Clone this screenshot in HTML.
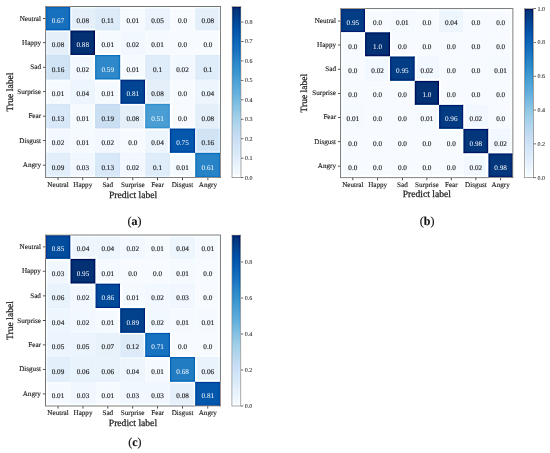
<!DOCTYPE html>
<html><head><meta charset="utf-8"><style>
html,body{margin:0;padding:0;background:#fff;}
body{width:550px;height:453px;overflow:hidden;}
svg{display:block;} text{stroke-width:0.15px;} text.ax{stroke-width:0.25px;} text.cb{stroke-width:0.08px;}
</style></head><body>
<svg width="550" height="453" viewBox="0 0 550 453" font-family="'Liberation Serif', 'Times New Roman', serif" text-rendering="geometricPrecision">
<defs><filter id="fx" x="0" y="0" width="550" height="453" filterUnits="userSpaceOnUse" color-interpolation-filters="sRGB">
<feGaussianBlur in="SourceGraphic" stdDeviation="0.4" result="soft"/>
<feGaussianBlur in="soft" stdDeviation="1.0" result="wide"/>
<feComposite in="soft" in2="wide" operator="arithmetic" k1="0" k2="1.6" k3="-0.6" k4="0" result="sh"/>
<feColorMatrix in="sh" type="saturate" values="1.12"/>
</filter></defs>
<filter id="ft" x="0" y="0" width="550" height="453" filterUnits="userSpaceOnUse" color-interpolation-filters="sRGB">
<feGaussianBlur in="SourceGraphic" stdDeviation="0.4"/>
</filter>
<g filter="url(#fx)">
<rect x="0" y="0" width="550" height="453" fill="#fff"/>
<rect x="45.60" y="6.50" width="25.10" height="24.30" fill="#1f6eb3"/>
<rect x="70.40" y="6.50" width="25.00" height="24.30" fill="#e5eff9"/>
<rect x="95.10" y="6.50" width="25.60" height="24.30" fill="#deebf7"/>
<rect x="120.40" y="6.50" width="25.10" height="24.30" fill="#f5fafe"/>
<rect x="145.20" y="6.50" width="24.90" height="24.30" fill="#ecf4fb"/>
<rect x="169.80" y="6.50" width="25.70" height="24.30" fill="#f7fbff"/>
<rect x="195.20" y="6.50" width="25.40" height="24.30" fill="#e5eff9"/>
<rect x="45.60" y="30.50" width="25.10" height="24.70" fill="#e5eff9"/>
<rect x="70.40" y="30.50" width="25.00" height="24.70" fill="#08306b"/>
<rect x="95.10" y="30.50" width="25.60" height="24.70" fill="#f5fafe"/>
<rect x="120.40" y="30.50" width="25.10" height="24.70" fill="#f3f8fe"/>
<rect x="145.20" y="30.50" width="24.90" height="24.70" fill="#f5fafe"/>
<rect x="169.80" y="30.50" width="25.70" height="24.70" fill="#f7fbff"/>
<rect x="195.20" y="30.50" width="25.40" height="24.70" fill="#f7fbff"/>
<rect x="45.60" y="54.90" width="25.10" height="25.00" fill="#d3e4f3"/>
<rect x="70.40" y="54.90" width="25.00" height="25.00" fill="#f3f8fe"/>
<rect x="95.10" y="54.90" width="25.60" height="25.00" fill="#3686c0"/>
<rect x="120.40" y="54.90" width="25.10" height="25.00" fill="#f5fafe"/>
<rect x="145.20" y="54.90" width="24.90" height="25.00" fill="#e0ecf8"/>
<rect x="169.80" y="54.90" width="25.70" height="25.00" fill="#f3f8fe"/>
<rect x="195.20" y="54.90" width="25.40" height="25.00" fill="#e0ecf8"/>
<rect x="45.60" y="79.60" width="25.10" height="24.50" fill="#f5fafe"/>
<rect x="70.40" y="79.60" width="25.00" height="24.50" fill="#eef5fc"/>
<rect x="95.10" y="79.60" width="25.60" height="24.50" fill="#f5fafe"/>
<rect x="120.40" y="79.60" width="25.10" height="24.50" fill="#08458a"/>
<rect x="145.20" y="79.60" width="24.90" height="24.50" fill="#e5eff9"/>
<rect x="169.80" y="79.60" width="25.70" height="24.50" fill="#f7fbff"/>
<rect x="195.20" y="79.60" width="25.40" height="24.50" fill="#eef5fc"/>
<rect x="45.60" y="103.80" width="25.10" height="25.00" fill="#dae8f6"/>
<rect x="70.40" y="103.80" width="25.00" height="25.00" fill="#f5fafe"/>
<rect x="95.10" y="103.80" width="25.60" height="25.00" fill="#cddff1"/>
<rect x="120.40" y="103.80" width="25.10" height="25.00" fill="#e5eff9"/>
<rect x="145.20" y="103.80" width="24.90" height="25.00" fill="#519ccc"/>
<rect x="169.80" y="103.80" width="25.70" height="25.00" fill="#f7fbff"/>
<rect x="195.20" y="103.80" width="25.40" height="25.00" fill="#e5eff9"/>
<rect x="45.60" y="128.50" width="25.10" height="24.60" fill="#f3f8fe"/>
<rect x="70.40" y="128.50" width="25.00" height="24.60" fill="#f5fafe"/>
<rect x="95.10" y="128.50" width="25.60" height="24.60" fill="#f3f8fe"/>
<rect x="120.40" y="128.50" width="25.10" height="24.60" fill="#f7fbff"/>
<rect x="145.20" y="128.50" width="24.90" height="24.60" fill="#eef5fc"/>
<rect x="169.80" y="128.50" width="25.70" height="24.60" fill="#0c56a0"/>
<rect x="195.20" y="128.50" width="25.40" height="24.60" fill="#d3e4f3"/>
<rect x="45.60" y="152.80" width="25.10" height="24.80" fill="#e3eef8"/>
<rect x="70.40" y="152.80" width="25.00" height="24.80" fill="#f1f7fd"/>
<rect x="95.10" y="152.80" width="25.60" height="24.80" fill="#dae8f6"/>
<rect x="120.40" y="152.80" width="25.10" height="24.80" fill="#f3f8fe"/>
<rect x="145.20" y="152.80" width="24.90" height="24.80" fill="#e0ecf8"/>
<rect x="169.80" y="152.80" width="25.70" height="24.80" fill="#f5fafe"/>
<rect x="195.20" y="152.80" width="25.40" height="24.80" fill="#3080bd"/>

















































<rect x="45.60" y="6.50" width="175.00" height="171.10" fill="none" stroke="#999999" stroke-width="1.00"/>
<line x1="43.00" y1="18.50" x2="45.60" y2="18.50" stroke="#555" stroke-width="0.8"/>

<line x1="43.00" y1="42.70" x2="45.60" y2="42.70" stroke="#555" stroke-width="0.8"/>

<line x1="43.00" y1="67.25" x2="45.60" y2="67.25" stroke="#555" stroke-width="0.8"/>

<line x1="43.00" y1="91.70" x2="45.60" y2="91.70" stroke="#555" stroke-width="0.8"/>

<line x1="43.00" y1="116.15" x2="45.60" y2="116.15" stroke="#555" stroke-width="0.8"/>

<line x1="43.00" y1="140.65" x2="45.60" y2="140.65" stroke="#555" stroke-width="0.8"/>

<line x1="43.00" y1="165.20" x2="45.60" y2="165.20" stroke="#555" stroke-width="0.8"/>

<line x1="58.00" y1="177.60" x2="58.00" y2="180.20" stroke="#555" stroke-width="0.8"/>

<line x1="82.75" y1="177.60" x2="82.75" y2="180.20" stroke="#555" stroke-width="0.8"/>

<line x1="107.75" y1="177.60" x2="107.75" y2="180.20" stroke="#555" stroke-width="0.8"/>

<line x1="132.80" y1="177.60" x2="132.80" y2="180.20" stroke="#555" stroke-width="0.8"/>

<line x1="157.50" y1="177.60" x2="157.50" y2="180.20" stroke="#555" stroke-width="0.8"/>

<line x1="182.50" y1="177.60" x2="182.50" y2="180.20" stroke="#555" stroke-width="0.8"/>

<line x1="207.90" y1="177.60" x2="207.90" y2="180.20" stroke="#555" stroke-width="0.8"/>



<defs><linearGradient id="ga" x1="0" y1="0" x2="0" y2="1"><stop offset="0.000" stop-color="#08306b"/><stop offset="0.025" stop-color="#083674"/><stop offset="0.050" stop-color="#083c7d"/><stop offset="0.075" stop-color="#084488"/><stop offset="0.100" stop-color="#084a91"/><stop offset="0.125" stop-color="#08509b"/><stop offset="0.150" stop-color="#0d57a1"/><stop offset="0.175" stop-color="#125da6"/><stop offset="0.200" stop-color="#1764ab"/><stop offset="0.225" stop-color="#1c6ab0"/><stop offset="0.250" stop-color="#2070b4"/><stop offset="0.275" stop-color="#2777b8"/><stop offset="0.300" stop-color="#2e7ebc"/><stop offset="0.325" stop-color="#3585bf"/><stop offset="0.350" stop-color="#3b8bc2"/><stop offset="0.375" stop-color="#4191c6"/><stop offset="0.400" stop-color="#4a98c9"/><stop offset="0.425" stop-color="#529dcc"/><stop offset="0.450" stop-color="#5ba3d0"/><stop offset="0.475" stop-color="#63a8d3"/><stop offset="0.500" stop-color="#6aaed6"/><stop offset="0.525" stop-color="#75b4d8"/><stop offset="0.550" stop-color="#7fb9da"/><stop offset="0.575" stop-color="#8abfdd"/><stop offset="0.600" stop-color="#94c4df"/><stop offset="0.625" stop-color="#9dcae1"/><stop offset="0.650" stop-color="#a6cee4"/><stop offset="0.675" stop-color="#aed1e7"/><stop offset="0.700" stop-color="#b7d4ea"/><stop offset="0.725" stop-color="#bed8ec"/><stop offset="0.750" stop-color="#c6dbef"/><stop offset="0.775" stop-color="#cbdef1"/><stop offset="0.800" stop-color="#d0e1f2"/><stop offset="0.825" stop-color="#d5e5f4"/><stop offset="0.850" stop-color="#d9e8f5"/><stop offset="0.875" stop-color="#deebf7"/><stop offset="0.900" stop-color="#e3eef9"/><stop offset="0.925" stop-color="#e8f1fa"/><stop offset="0.950" stop-color="#eef5fc"/><stop offset="0.975" stop-color="#f2f8fd"/><stop offset="1.000" stop-color="#f7fbff"/></linearGradient></defs>
<rect x="232.00" y="6.50" width="9.00" height="171.10" fill="url(#ga)" stroke="#aaa" stroke-width="0.8"/>
<line x1="241.00" y1="177.60" x2="243.50" y2="177.60" stroke="#444" stroke-width="0.6"/>

<line x1="241.00" y1="158.16" x2="243.50" y2="158.16" stroke="#444" stroke-width="0.6"/>

<line x1="241.00" y1="138.71" x2="243.50" y2="138.71" stroke="#444" stroke-width="0.6"/>

<line x1="241.00" y1="119.27" x2="243.50" y2="119.27" stroke="#444" stroke-width="0.6"/>

<line x1="241.00" y1="99.83" x2="243.50" y2="99.83" stroke="#444" stroke-width="0.6"/>

<line x1="241.00" y1="80.38" x2="243.50" y2="80.38" stroke="#444" stroke-width="0.6"/>

<line x1="241.00" y1="60.94" x2="243.50" y2="60.94" stroke="#444" stroke-width="0.6"/>

<line x1="241.00" y1="41.50" x2="243.50" y2="41.50" stroke="#444" stroke-width="0.6"/>

<line x1="241.00" y1="22.05" x2="243.50" y2="22.05" stroke="#444" stroke-width="0.6"/>


<rect x="340.60" y="8.60" width="24.80" height="24.00" fill="#083c7d"/>
<rect x="365.10" y="8.60" width="25.30" height="24.00" fill="#f7fbff"/>
<rect x="390.10" y="8.60" width="24.90" height="24.00" fill="#f5fafe"/>
<rect x="414.70" y="8.60" width="24.70" height="24.00" fill="#f7fbff"/>
<rect x="439.10" y="8.60" width="24.60" height="24.00" fill="#eff6fc"/>
<rect x="463.40" y="8.60" width="25.30" height="24.00" fill="#f7fbff"/>
<rect x="488.40" y="8.60" width="24.50" height="24.00" fill="#f7fbff"/>
<rect x="340.60" y="32.30" width="24.80" height="24.45" fill="#f7fbff"/>
<rect x="365.10" y="32.30" width="25.30" height="24.45" fill="#08306b"/>
<rect x="390.10" y="32.30" width="24.90" height="24.45" fill="#f7fbff"/>
<rect x="414.70" y="32.30" width="24.70" height="24.45" fill="#f7fbff"/>
<rect x="439.10" y="32.30" width="24.60" height="24.45" fill="#f7fbff"/>
<rect x="463.40" y="32.30" width="25.30" height="24.45" fill="#f7fbff"/>
<rect x="488.40" y="32.30" width="24.50" height="24.45" fill="#f7fbff"/>
<rect x="340.60" y="56.45" width="24.80" height="24.65" fill="#f7fbff"/>
<rect x="365.10" y="56.45" width="25.30" height="24.65" fill="#f3f8fe"/>
<rect x="390.10" y="56.45" width="24.90" height="24.65" fill="#083c7d"/>
<rect x="414.70" y="56.45" width="24.70" height="24.65" fill="#f3f8fe"/>
<rect x="439.10" y="56.45" width="24.60" height="24.65" fill="#f7fbff"/>
<rect x="463.40" y="56.45" width="25.30" height="24.65" fill="#f7fbff"/>
<rect x="488.40" y="56.45" width="24.50" height="24.65" fill="#f5fafe"/>
<rect x="340.60" y="80.80" width="24.80" height="24.30" fill="#f7fbff"/>
<rect x="365.10" y="80.80" width="25.30" height="24.30" fill="#f7fbff"/>
<rect x="390.10" y="80.80" width="24.90" height="24.30" fill="#f7fbff"/>
<rect x="414.70" y="80.80" width="24.70" height="24.30" fill="#08306b"/>
<rect x="439.10" y="80.80" width="24.60" height="24.30" fill="#f7fbff"/>
<rect x="463.40" y="80.80" width="25.30" height="24.30" fill="#f7fbff"/>
<rect x="488.40" y="80.80" width="24.50" height="24.30" fill="#f7fbff"/>
<rect x="340.60" y="104.80" width="24.80" height="24.30" fill="#f5fafe"/>
<rect x="365.10" y="104.80" width="25.30" height="24.30" fill="#f7fbff"/>
<rect x="390.10" y="104.80" width="24.90" height="24.30" fill="#f7fbff"/>
<rect x="414.70" y="104.80" width="24.70" height="24.30" fill="#f5fafe"/>
<rect x="439.10" y="104.80" width="24.60" height="24.30" fill="#083a7a"/>
<rect x="463.40" y="104.80" width="25.30" height="24.30" fill="#f3f8fe"/>
<rect x="488.40" y="104.80" width="24.50" height="24.30" fill="#f7fbff"/>
<rect x="340.60" y="128.80" width="24.80" height="24.90" fill="#f7fbff"/>
<rect x="365.10" y="128.80" width="25.30" height="24.90" fill="#f7fbff"/>
<rect x="390.10" y="128.80" width="24.90" height="24.90" fill="#f7fbff"/>
<rect x="414.70" y="128.80" width="24.70" height="24.90" fill="#f7fbff"/>
<rect x="439.10" y="128.80" width="24.60" height="24.90" fill="#f7fbff"/>
<rect x="463.40" y="128.80" width="25.30" height="24.90" fill="#083573"/>
<rect x="488.40" y="128.80" width="24.50" height="24.90" fill="#f3f8fe"/>
<rect x="340.60" y="153.40" width="24.80" height="24.30" fill="#f7fbff"/>
<rect x="365.10" y="153.40" width="25.30" height="24.30" fill="#f7fbff"/>
<rect x="390.10" y="153.40" width="24.90" height="24.30" fill="#f7fbff"/>
<rect x="414.70" y="153.40" width="24.70" height="24.30" fill="#f7fbff"/>
<rect x="439.10" y="153.40" width="24.60" height="24.30" fill="#f7fbff"/>
<rect x="463.40" y="153.40" width="25.30" height="24.30" fill="#f3f8fe"/>
<rect x="488.40" y="153.40" width="24.50" height="24.30" fill="#083573"/>

















































<rect x="340.60" y="8.60" width="172.30" height="169.10" fill="none" stroke="#999999" stroke-width="1.00"/>
<line x1="338.00" y1="21.05" x2="340.60" y2="21.05" stroke="#555" stroke-width="0.8"/>

<line x1="338.00" y1="44.98" x2="340.60" y2="44.98" stroke="#555" stroke-width="0.8"/>

<line x1="338.00" y1="69.22" x2="340.60" y2="69.22" stroke="#555" stroke-width="0.8"/>

<line x1="338.00" y1="93.40" x2="340.60" y2="93.40" stroke="#555" stroke-width="0.8"/>

<line x1="338.00" y1="117.40" x2="340.60" y2="117.40" stroke="#555" stroke-width="0.8"/>

<line x1="338.00" y1="141.70" x2="340.60" y2="141.70" stroke="#555" stroke-width="0.8"/>

<line x1="338.00" y1="166.15" x2="340.60" y2="166.15" stroke="#555" stroke-width="0.8"/>

<line x1="352.85" y1="177.70" x2="352.85" y2="180.30" stroke="#555" stroke-width="0.8"/>

<line x1="377.60" y1="177.70" x2="377.60" y2="180.30" stroke="#555" stroke-width="0.8"/>

<line x1="402.40" y1="177.70" x2="402.40" y2="180.30" stroke="#555" stroke-width="0.8"/>

<line x1="426.90" y1="177.70" x2="426.90" y2="180.30" stroke="#555" stroke-width="0.8"/>

<line x1="451.25" y1="177.70" x2="451.25" y2="180.30" stroke="#555" stroke-width="0.8"/>

<line x1="475.90" y1="177.70" x2="475.90" y2="180.30" stroke="#555" stroke-width="0.8"/>

<line x1="500.65" y1="177.70" x2="500.65" y2="180.30" stroke="#555" stroke-width="0.8"/>



<defs><linearGradient id="gb" x1="0" y1="0" x2="0" y2="1"><stop offset="0.000" stop-color="#08306b"/><stop offset="0.025" stop-color="#083674"/><stop offset="0.050" stop-color="#083c7d"/><stop offset="0.075" stop-color="#084488"/><stop offset="0.100" stop-color="#084a91"/><stop offset="0.125" stop-color="#08509b"/><stop offset="0.150" stop-color="#0d57a1"/><stop offset="0.175" stop-color="#125da6"/><stop offset="0.200" stop-color="#1764ab"/><stop offset="0.225" stop-color="#1c6ab0"/><stop offset="0.250" stop-color="#2070b4"/><stop offset="0.275" stop-color="#2777b8"/><stop offset="0.300" stop-color="#2e7ebc"/><stop offset="0.325" stop-color="#3585bf"/><stop offset="0.350" stop-color="#3b8bc2"/><stop offset="0.375" stop-color="#4191c6"/><stop offset="0.400" stop-color="#4a98c9"/><stop offset="0.425" stop-color="#529dcc"/><stop offset="0.450" stop-color="#5ba3d0"/><stop offset="0.475" stop-color="#63a8d3"/><stop offset="0.500" stop-color="#6aaed6"/><stop offset="0.525" stop-color="#75b4d8"/><stop offset="0.550" stop-color="#7fb9da"/><stop offset="0.575" stop-color="#8abfdd"/><stop offset="0.600" stop-color="#94c4df"/><stop offset="0.625" stop-color="#9dcae1"/><stop offset="0.650" stop-color="#a6cee4"/><stop offset="0.675" stop-color="#aed1e7"/><stop offset="0.700" stop-color="#b7d4ea"/><stop offset="0.725" stop-color="#bed8ec"/><stop offset="0.750" stop-color="#c6dbef"/><stop offset="0.775" stop-color="#cbdef1"/><stop offset="0.800" stop-color="#d0e1f2"/><stop offset="0.825" stop-color="#d5e5f4"/><stop offset="0.850" stop-color="#d9e8f5"/><stop offset="0.875" stop-color="#deebf7"/><stop offset="0.900" stop-color="#e3eef9"/><stop offset="0.925" stop-color="#e8f1fa"/><stop offset="0.950" stop-color="#eef5fc"/><stop offset="0.975" stop-color="#f2f8fd"/><stop offset="1.000" stop-color="#f7fbff"/></linearGradient></defs>
<rect x="524.30" y="8.60" width="9.20" height="169.10" fill="url(#gb)" stroke="#aaa" stroke-width="0.8"/>
<line x1="533.50" y1="177.70" x2="536.00" y2="177.70" stroke="#444" stroke-width="0.6"/>

<line x1="533.50" y1="143.88" x2="536.00" y2="143.88" stroke="#444" stroke-width="0.6"/>

<line x1="533.50" y1="110.06" x2="536.00" y2="110.06" stroke="#444" stroke-width="0.6"/>

<line x1="533.50" y1="76.24" x2="536.00" y2="76.24" stroke="#444" stroke-width="0.6"/>

<line x1="533.50" y1="42.42" x2="536.00" y2="42.42" stroke="#444" stroke-width="0.6"/>

<line x1="533.50" y1="8.60" x2="536.00" y2="8.60" stroke="#444" stroke-width="0.6"/>


<rect x="45.50" y="235.00" width="25.30" height="24.10" fill="#084b93"/>
<rect x="70.50" y="235.00" width="25.30" height="24.10" fill="#eff6fc"/>
<rect x="95.50" y="235.00" width="25.00" height="24.10" fill="#eff6fc"/>
<rect x="120.20" y="235.00" width="25.30" height="24.10" fill="#f3f8fe"/>
<rect x="145.20" y="235.00" width="25.10" height="24.10" fill="#f5fafe"/>
<rect x="170.00" y="235.00" width="25.50" height="24.10" fill="#eff6fc"/>
<rect x="195.20" y="235.00" width="25.20" height="24.10" fill="#f5fafe"/>
<rect x="45.50" y="258.80" width="25.30" height="25.10" fill="#f1f7fd"/>
<rect x="70.50" y="258.80" width="25.30" height="25.10" fill="#08306b"/>
<rect x="95.50" y="258.80" width="25.00" height="25.10" fill="#f5fafe"/>
<rect x="120.20" y="258.80" width="25.30" height="25.10" fill="#f7fbff"/>
<rect x="145.20" y="258.80" width="25.10" height="25.10" fill="#f7fbff"/>
<rect x="170.00" y="258.80" width="25.50" height="25.10" fill="#f5fafe"/>
<rect x="195.20" y="258.80" width="25.20" height="25.10" fill="#f7fbff"/>
<rect x="45.50" y="283.60" width="25.30" height="24.90" fill="#eaf3fb"/>
<rect x="70.50" y="283.60" width="25.30" height="24.90" fill="#f3f8fe"/>
<rect x="95.50" y="283.60" width="25.00" height="24.90" fill="#084990"/>
<rect x="120.20" y="283.60" width="25.30" height="24.90" fill="#f5fafe"/>
<rect x="145.20" y="283.60" width="25.10" height="24.90" fill="#f3f8fe"/>
<rect x="170.00" y="283.60" width="25.50" height="24.90" fill="#f1f7fd"/>
<rect x="195.20" y="283.60" width="25.20" height="24.90" fill="#f7fbff"/>
<rect x="45.50" y="308.20" width="25.30" height="24.90" fill="#eff6fc"/>
<rect x="70.50" y="308.20" width="25.30" height="24.90" fill="#f3f8fe"/>
<rect x="95.50" y="308.20" width="25.00" height="24.90" fill="#f5fafe"/>
<rect x="120.20" y="308.20" width="25.30" height="24.90" fill="#084184"/>
<rect x="145.20" y="308.20" width="25.10" height="24.90" fill="#f3f8fe"/>
<rect x="170.00" y="308.20" width="25.50" height="24.90" fill="#f5fafe"/>
<rect x="195.20" y="308.20" width="25.20" height="24.90" fill="#f5fafe"/>
<rect x="45.50" y="332.80" width="25.30" height="24.50" fill="#edf4fc"/>
<rect x="70.50" y="332.80" width="25.30" height="24.50" fill="#edf4fc"/>
<rect x="95.50" y="332.80" width="25.00" height="24.50" fill="#e9f2fa"/>
<rect x="120.20" y="332.80" width="25.30" height="24.50" fill="#deebf7"/>
<rect x="145.20" y="332.80" width="25.10" height="24.50" fill="#2171b5"/>
<rect x="170.00" y="332.80" width="25.50" height="24.50" fill="#f7fbff"/>
<rect x="195.20" y="332.80" width="25.20" height="24.50" fill="#f7fbff"/>
<rect x="45.50" y="357.00" width="25.30" height="25.10" fill="#e4eff9"/>
<rect x="70.50" y="357.00" width="25.30" height="25.10" fill="#eaf3fb"/>
<rect x="95.50" y="357.00" width="25.00" height="25.10" fill="#eaf3fb"/>
<rect x="120.20" y="357.00" width="25.30" height="25.10" fill="#eff6fc"/>
<rect x="145.20" y="357.00" width="25.10" height="25.10" fill="#f5fafe"/>
<rect x="170.00" y="357.00" width="25.50" height="25.10" fill="#2a7ab9"/>
<rect x="195.20" y="357.00" width="25.20" height="25.10" fill="#eaf3fb"/>
<rect x="45.50" y="381.80" width="25.30" height="24.20" fill="#f5fafe"/>
<rect x="70.50" y="381.80" width="25.30" height="24.20" fill="#f1f7fd"/>
<rect x="95.50" y="381.80" width="25.00" height="24.20" fill="#f5fafe"/>
<rect x="120.20" y="381.80" width="25.30" height="24.20" fill="#f1f7fd"/>
<rect x="145.20" y="381.80" width="25.10" height="24.20" fill="#f1f7fd"/>
<rect x="170.00" y="381.80" width="25.50" height="24.20" fill="#e7f0fa"/>
<rect x="195.20" y="381.80" width="25.20" height="24.20" fill="#0c56a0"/>

















































<rect x="45.50" y="235.00" width="174.90" height="171.00" fill="none" stroke="#999999" stroke-width="1.00"/>
<line x1="42.90" y1="246.90" x2="45.50" y2="246.90" stroke="#555" stroke-width="0.8"/>

<line x1="42.90" y1="271.20" x2="45.50" y2="271.20" stroke="#555" stroke-width="0.8"/>

<line x1="42.90" y1="295.90" x2="45.50" y2="295.90" stroke="#555" stroke-width="0.8"/>

<line x1="42.90" y1="320.50" x2="45.50" y2="320.50" stroke="#555" stroke-width="0.8"/>

<line x1="42.90" y1="344.90" x2="45.50" y2="344.90" stroke="#555" stroke-width="0.8"/>

<line x1="42.90" y1="369.40" x2="45.50" y2="369.40" stroke="#555" stroke-width="0.8"/>

<line x1="42.90" y1="393.90" x2="45.50" y2="393.90" stroke="#555" stroke-width="0.8"/>

<line x1="58.00" y1="406.00" x2="58.00" y2="408.60" stroke="#555" stroke-width="0.8"/>

<line x1="83.00" y1="406.00" x2="83.00" y2="408.60" stroke="#555" stroke-width="0.8"/>

<line x1="107.85" y1="406.00" x2="107.85" y2="408.60" stroke="#555" stroke-width="0.8"/>

<line x1="132.70" y1="406.00" x2="132.70" y2="408.60" stroke="#555" stroke-width="0.8"/>

<line x1="157.60" y1="406.00" x2="157.60" y2="408.60" stroke="#555" stroke-width="0.8"/>

<line x1="182.60" y1="406.00" x2="182.60" y2="408.60" stroke="#555" stroke-width="0.8"/>

<line x1="207.80" y1="406.00" x2="207.80" y2="408.60" stroke="#555" stroke-width="0.8"/>



<defs><linearGradient id="gc" x1="0" y1="0" x2="0" y2="1"><stop offset="0.000" stop-color="#08306b"/><stop offset="0.025" stop-color="#083674"/><stop offset="0.050" stop-color="#083c7d"/><stop offset="0.075" stop-color="#084488"/><stop offset="0.100" stop-color="#084a91"/><stop offset="0.125" stop-color="#08509b"/><stop offset="0.150" stop-color="#0d57a1"/><stop offset="0.175" stop-color="#125da6"/><stop offset="0.200" stop-color="#1764ab"/><stop offset="0.225" stop-color="#1c6ab0"/><stop offset="0.250" stop-color="#2070b4"/><stop offset="0.275" stop-color="#2777b8"/><stop offset="0.300" stop-color="#2e7ebc"/><stop offset="0.325" stop-color="#3585bf"/><stop offset="0.350" stop-color="#3b8bc2"/><stop offset="0.375" stop-color="#4191c6"/><stop offset="0.400" stop-color="#4a98c9"/><stop offset="0.425" stop-color="#529dcc"/><stop offset="0.450" stop-color="#5ba3d0"/><stop offset="0.475" stop-color="#63a8d3"/><stop offset="0.500" stop-color="#6aaed6"/><stop offset="0.525" stop-color="#75b4d8"/><stop offset="0.550" stop-color="#7fb9da"/><stop offset="0.575" stop-color="#8abfdd"/><stop offset="0.600" stop-color="#94c4df"/><stop offset="0.625" stop-color="#9dcae1"/><stop offset="0.650" stop-color="#a6cee4"/><stop offset="0.675" stop-color="#aed1e7"/><stop offset="0.700" stop-color="#b7d4ea"/><stop offset="0.725" stop-color="#bed8ec"/><stop offset="0.750" stop-color="#c6dbef"/><stop offset="0.775" stop-color="#cbdef1"/><stop offset="0.800" stop-color="#d0e1f2"/><stop offset="0.825" stop-color="#d5e5f4"/><stop offset="0.850" stop-color="#d9e8f5"/><stop offset="0.875" stop-color="#deebf7"/><stop offset="0.900" stop-color="#e3eef9"/><stop offset="0.925" stop-color="#e8f1fa"/><stop offset="0.950" stop-color="#eef5fc"/><stop offset="0.975" stop-color="#f2f8fd"/><stop offset="1.000" stop-color="#f7fbff"/></linearGradient></defs>
<rect x="231.90" y="235.00" width="8.90" height="171.00" fill="url(#gc)" stroke="#aaa" stroke-width="0.8"/>
<line x1="240.80" y1="406.00" x2="243.30" y2="406.00" stroke="#444" stroke-width="0.6"/>

<line x1="240.80" y1="370.00" x2="243.30" y2="370.00" stroke="#444" stroke-width="0.6"/>

<line x1="240.80" y1="334.00" x2="243.30" y2="334.00" stroke="#444" stroke-width="0.6"/>

<line x1="240.80" y1="298.00" x2="243.30" y2="298.00" stroke="#444" stroke-width="0.6"/>

<line x1="240.80" y1="262.00" x2="243.30" y2="262.00" stroke="#444" stroke-width="0.6"/>


</g>
<g filter="url(#ft)">
<text x="58.00" y="20.90" fill="#ffffff" font-size="7.20" text-anchor="middle" dominant-baseline="central">0.67</text>
<text stroke="#1a1a1a" x="82.75" y="20.90" fill="#1a1a1a" font-size="7.20" text-anchor="middle" dominant-baseline="central">0.08</text>
<text stroke="#1a1a1a" x="107.75" y="20.90" fill="#1a1a1a" font-size="7.20" text-anchor="middle" dominant-baseline="central">0.11</text>
<text stroke="#1a1a1a" x="132.80" y="20.90" fill="#1a1a1a" font-size="7.20" text-anchor="middle" dominant-baseline="central">0.01</text>
<text stroke="#1a1a1a" x="157.50" y="20.90" fill="#1a1a1a" font-size="7.20" text-anchor="middle" dominant-baseline="central">0.05</text>
<text stroke="#1a1a1a" x="182.50" y="20.90" fill="#1a1a1a" font-size="7.20" text-anchor="middle" dominant-baseline="central">0.0</text>
<text stroke="#1a1a1a" x="207.90" y="20.90" fill="#1a1a1a" font-size="7.20" text-anchor="middle" dominant-baseline="central">0.08</text>
<text stroke="#1a1a1a" x="58.00" y="45.10" fill="#1a1a1a" font-size="7.20" text-anchor="middle" dominant-baseline="central">0.08</text>
<text x="82.75" y="45.10" fill="#ffffff" font-size="7.20" text-anchor="middle" dominant-baseline="central">0.88</text>
<text stroke="#1a1a1a" x="107.75" y="45.10" fill="#1a1a1a" font-size="7.20" text-anchor="middle" dominant-baseline="central">0.01</text>
<text stroke="#1a1a1a" x="132.80" y="45.10" fill="#1a1a1a" font-size="7.20" text-anchor="middle" dominant-baseline="central">0.02</text>
<text stroke="#1a1a1a" x="157.50" y="45.10" fill="#1a1a1a" font-size="7.20" text-anchor="middle" dominant-baseline="central">0.01</text>
<text stroke="#1a1a1a" x="182.50" y="45.10" fill="#1a1a1a" font-size="7.20" text-anchor="middle" dominant-baseline="central">0.0</text>
<text stroke="#1a1a1a" x="207.90" y="45.10" fill="#1a1a1a" font-size="7.20" text-anchor="middle" dominant-baseline="central">0.0</text>
<text stroke="#1a1a1a" x="58.00" y="69.65" fill="#1a1a1a" font-size="7.20" text-anchor="middle" dominant-baseline="central">0.16</text>
<text stroke="#1a1a1a" x="82.75" y="69.65" fill="#1a1a1a" font-size="7.20" text-anchor="middle" dominant-baseline="central">0.02</text>
<text x="107.75" y="69.65" fill="#ffffff" font-size="7.20" text-anchor="middle" dominant-baseline="central">0.59</text>
<text stroke="#1a1a1a" x="132.80" y="69.65" fill="#1a1a1a" font-size="7.20" text-anchor="middle" dominant-baseline="central">0.01</text>
<text stroke="#1a1a1a" x="157.50" y="69.65" fill="#1a1a1a" font-size="7.20" text-anchor="middle" dominant-baseline="central">0.1</text>
<text stroke="#1a1a1a" x="182.50" y="69.65" fill="#1a1a1a" font-size="7.20" text-anchor="middle" dominant-baseline="central">0.02</text>
<text stroke="#1a1a1a" x="207.90" y="69.65" fill="#1a1a1a" font-size="7.20" text-anchor="middle" dominant-baseline="central">0.1</text>
<text stroke="#1a1a1a" x="58.00" y="94.10" fill="#1a1a1a" font-size="7.20" text-anchor="middle" dominant-baseline="central">0.01</text>
<text stroke="#1a1a1a" x="82.75" y="94.10" fill="#1a1a1a" font-size="7.20" text-anchor="middle" dominant-baseline="central">0.04</text>
<text stroke="#1a1a1a" x="107.75" y="94.10" fill="#1a1a1a" font-size="7.20" text-anchor="middle" dominant-baseline="central">0.01</text>
<text x="132.80" y="94.10" fill="#ffffff" font-size="7.20" text-anchor="middle" dominant-baseline="central">0.81</text>
<text stroke="#1a1a1a" x="157.50" y="94.10" fill="#1a1a1a" font-size="7.20" text-anchor="middle" dominant-baseline="central">0.08</text>
<text stroke="#1a1a1a" x="182.50" y="94.10" fill="#1a1a1a" font-size="7.20" text-anchor="middle" dominant-baseline="central">0.0</text>
<text stroke="#1a1a1a" x="207.90" y="94.10" fill="#1a1a1a" font-size="7.20" text-anchor="middle" dominant-baseline="central">0.04</text>
<text stroke="#1a1a1a" x="58.00" y="118.55" fill="#1a1a1a" font-size="7.20" text-anchor="middle" dominant-baseline="central">0.13</text>
<text stroke="#1a1a1a" x="82.75" y="118.55" fill="#1a1a1a" font-size="7.20" text-anchor="middle" dominant-baseline="central">0.01</text>
<text stroke="#1a1a1a" x="107.75" y="118.55" fill="#1a1a1a" font-size="7.20" text-anchor="middle" dominant-baseline="central">0.19</text>
<text stroke="#1a1a1a" x="132.80" y="118.55" fill="#1a1a1a" font-size="7.20" text-anchor="middle" dominant-baseline="central">0.08</text>
<text x="157.50" y="118.55" fill="#ffffff" font-size="7.20" text-anchor="middle" dominant-baseline="central">0.51</text>
<text stroke="#1a1a1a" x="182.50" y="118.55" fill="#1a1a1a" font-size="7.20" text-anchor="middle" dominant-baseline="central">0.0</text>
<text stroke="#1a1a1a" x="207.90" y="118.55" fill="#1a1a1a" font-size="7.20" text-anchor="middle" dominant-baseline="central">0.08</text>
<text stroke="#1a1a1a" x="58.00" y="143.05" fill="#1a1a1a" font-size="7.20" text-anchor="middle" dominant-baseline="central">0.02</text>
<text stroke="#1a1a1a" x="82.75" y="143.05" fill="#1a1a1a" font-size="7.20" text-anchor="middle" dominant-baseline="central">0.01</text>
<text stroke="#1a1a1a" x="107.75" y="143.05" fill="#1a1a1a" font-size="7.20" text-anchor="middle" dominant-baseline="central">0.02</text>
<text stroke="#1a1a1a" x="132.80" y="143.05" fill="#1a1a1a" font-size="7.20" text-anchor="middle" dominant-baseline="central">0.0</text>
<text stroke="#1a1a1a" x="157.50" y="143.05" fill="#1a1a1a" font-size="7.20" text-anchor="middle" dominant-baseline="central">0.04</text>
<text x="182.50" y="143.05" fill="#ffffff" font-size="7.20" text-anchor="middle" dominant-baseline="central">0.75</text>
<text stroke="#1a1a1a" x="207.90" y="143.05" fill="#1a1a1a" font-size="7.20" text-anchor="middle" dominant-baseline="central">0.16</text>
<text stroke="#1a1a1a" x="58.00" y="167.60" fill="#1a1a1a" font-size="7.20" text-anchor="middle" dominant-baseline="central">0.09</text>
<text stroke="#1a1a1a" x="82.75" y="167.60" fill="#1a1a1a" font-size="7.20" text-anchor="middle" dominant-baseline="central">0.03</text>
<text stroke="#1a1a1a" x="107.75" y="167.60" fill="#1a1a1a" font-size="7.20" text-anchor="middle" dominant-baseline="central">0.13</text>
<text stroke="#1a1a1a" x="132.80" y="167.60" fill="#1a1a1a" font-size="7.20" text-anchor="middle" dominant-baseline="central">0.02</text>
<text stroke="#1a1a1a" x="157.50" y="167.60" fill="#1a1a1a" font-size="7.20" text-anchor="middle" dominant-baseline="central">0.1</text>
<text stroke="#1a1a1a" x="182.50" y="167.60" fill="#1a1a1a" font-size="7.20" text-anchor="middle" dominant-baseline="central">0.01</text>
<text x="207.90" y="167.60" fill="#ffffff" font-size="7.20" text-anchor="middle" dominant-baseline="central">0.61</text>
<text stroke="#222" x="41.00" y="18.50" font-size="7.10" text-anchor="end" dominant-baseline="central" fill="#222">Neutral</text>
<text stroke="#222" x="41.00" y="42.70" font-size="7.10" text-anchor="end" dominant-baseline="central" fill="#222">Happy</text>
<text stroke="#222" x="41.00" y="67.25" font-size="7.10" text-anchor="end" dominant-baseline="central" fill="#222">Sad</text>
<text stroke="#222" x="41.00" y="91.70" font-size="7.10" text-anchor="end" dominant-baseline="central" fill="#222">Surprise</text>
<text stroke="#222" x="41.00" y="116.15" font-size="7.10" text-anchor="end" dominant-baseline="central" fill="#222">Fear</text>
<text stroke="#222" x="41.00" y="140.65" font-size="7.10" text-anchor="end" dominant-baseline="central" fill="#222">Disgust</text>
<text stroke="#222" x="41.00" y="165.20" font-size="7.10" text-anchor="end" dominant-baseline="central" fill="#222">Angry</text>
<text stroke="#222" x="58.00" y="186.80" font-size="7.10" text-anchor="middle" fill="#222">Neutral</text>
<text stroke="#222" x="82.75" y="186.80" font-size="7.10" text-anchor="middle" fill="#222">Happy</text>
<text stroke="#222" x="107.75" y="186.80" font-size="7.10" text-anchor="middle" fill="#222">Sad</text>
<text stroke="#222" x="132.80" y="186.80" font-size="7.10" text-anchor="middle" fill="#222">Surprise</text>
<text stroke="#222" x="157.50" y="186.80" font-size="7.10" text-anchor="middle" fill="#222">Fear</text>
<text stroke="#222" x="182.50" y="186.80" font-size="7.10" text-anchor="middle" fill="#222">Disgust</text>
<text stroke="#222" x="207.90" y="186.80" font-size="7.10" text-anchor="middle" fill="#222">Angry</text>
<text stroke="#222" x="133.10" y="197.50" font-size="9.60" text-anchor="middle" fill="#222" class="ax">Predict label</text>
<text stroke="#222" transform="translate(12.80 92.05) rotate(-90)" font-size="9.60" text-anchor="middle" fill="#222" class="ax">True label</text>
<text x="245.00" y="178.50" font-size="6.00" dominant-baseline="central" fill="#2a2a2a" stroke="#2a2a2a" class="cb">0.0</text>
<text x="245.00" y="159.06" font-size="6.00" dominant-baseline="central" fill="#2a2a2a" stroke="#2a2a2a" class="cb">0.1</text>
<text x="245.00" y="139.61" font-size="6.00" dominant-baseline="central" fill="#2a2a2a" stroke="#2a2a2a" class="cb">0.2</text>
<text x="245.00" y="120.17" font-size="6.00" dominant-baseline="central" fill="#2a2a2a" stroke="#2a2a2a" class="cb">0.3</text>
<text x="245.00" y="100.73" font-size="6.00" dominant-baseline="central" fill="#2a2a2a" stroke="#2a2a2a" class="cb">0.4</text>
<text x="245.00" y="81.28" font-size="6.00" dominant-baseline="central" fill="#2a2a2a" stroke="#2a2a2a" class="cb">0.5</text>
<text x="245.00" y="61.84" font-size="6.00" dominant-baseline="central" fill="#2a2a2a" stroke="#2a2a2a" class="cb">0.6</text>
<text x="245.00" y="42.40" font-size="6.00" dominant-baseline="central" fill="#2a2a2a" stroke="#2a2a2a" class="cb">0.7</text>
<text x="245.00" y="22.95" font-size="6.00" dominant-baseline="central" fill="#2a2a2a" stroke="#2a2a2a" class="cb">0.8</text>
<text stroke="#111" x="134.60" y="224.80" font-size="12.00" text-anchor="middle" fill="#111">(<tspan font-weight="bold">a</tspan>)</text>
<text x="352.85" y="22.85" fill="#ffffff" font-size="7.20" text-anchor="middle" dominant-baseline="central">0.95</text>
<text stroke="#1a1a1a" x="377.60" y="22.85" fill="#1a1a1a" font-size="7.20" text-anchor="middle" dominant-baseline="central">0.0</text>
<text stroke="#1a1a1a" x="402.40" y="22.85" fill="#1a1a1a" font-size="7.20" text-anchor="middle" dominant-baseline="central">0.01</text>
<text stroke="#1a1a1a" x="426.90" y="22.85" fill="#1a1a1a" font-size="7.20" text-anchor="middle" dominant-baseline="central">0.0</text>
<text stroke="#1a1a1a" x="451.25" y="22.85" fill="#1a1a1a" font-size="7.20" text-anchor="middle" dominant-baseline="central">0.04</text>
<text stroke="#1a1a1a" x="475.90" y="22.85" fill="#1a1a1a" font-size="7.20" text-anchor="middle" dominant-baseline="central">0.0</text>
<text stroke="#1a1a1a" x="500.65" y="22.85" fill="#1a1a1a" font-size="7.20" text-anchor="middle" dominant-baseline="central">0.0</text>
<text stroke="#1a1a1a" x="352.85" y="46.77" fill="#1a1a1a" font-size="7.20" text-anchor="middle" dominant-baseline="central">0.0</text>
<text x="377.60" y="46.77" fill="#ffffff" font-size="7.20" text-anchor="middle" dominant-baseline="central">1.0</text>
<text stroke="#1a1a1a" x="402.40" y="46.77" fill="#1a1a1a" font-size="7.20" text-anchor="middle" dominant-baseline="central">0.0</text>
<text stroke="#1a1a1a" x="426.90" y="46.77" fill="#1a1a1a" font-size="7.20" text-anchor="middle" dominant-baseline="central">0.0</text>
<text stroke="#1a1a1a" x="451.25" y="46.77" fill="#1a1a1a" font-size="7.20" text-anchor="middle" dominant-baseline="central">0.0</text>
<text stroke="#1a1a1a" x="475.90" y="46.77" fill="#1a1a1a" font-size="7.20" text-anchor="middle" dominant-baseline="central">0.0</text>
<text stroke="#1a1a1a" x="500.65" y="46.77" fill="#1a1a1a" font-size="7.20" text-anchor="middle" dominant-baseline="central">0.0</text>
<text stroke="#1a1a1a" x="352.85" y="71.03" fill="#1a1a1a" font-size="7.20" text-anchor="middle" dominant-baseline="central">0.0</text>
<text stroke="#1a1a1a" x="377.60" y="71.03" fill="#1a1a1a" font-size="7.20" text-anchor="middle" dominant-baseline="central">0.02</text>
<text x="402.40" y="71.03" fill="#ffffff" font-size="7.20" text-anchor="middle" dominant-baseline="central">0.95</text>
<text stroke="#1a1a1a" x="426.90" y="71.03" fill="#1a1a1a" font-size="7.20" text-anchor="middle" dominant-baseline="central">0.02</text>
<text stroke="#1a1a1a" x="451.25" y="71.03" fill="#1a1a1a" font-size="7.20" text-anchor="middle" dominant-baseline="central">0.0</text>
<text stroke="#1a1a1a" x="475.90" y="71.03" fill="#1a1a1a" font-size="7.20" text-anchor="middle" dominant-baseline="central">0.0</text>
<text stroke="#1a1a1a" x="500.65" y="71.03" fill="#1a1a1a" font-size="7.20" text-anchor="middle" dominant-baseline="central">0.01</text>
<text stroke="#1a1a1a" x="352.85" y="95.20" fill="#1a1a1a" font-size="7.20" text-anchor="middle" dominant-baseline="central">0.0</text>
<text stroke="#1a1a1a" x="377.60" y="95.20" fill="#1a1a1a" font-size="7.20" text-anchor="middle" dominant-baseline="central">0.0</text>
<text stroke="#1a1a1a" x="402.40" y="95.20" fill="#1a1a1a" font-size="7.20" text-anchor="middle" dominant-baseline="central">0.0</text>
<text x="426.90" y="95.20" fill="#ffffff" font-size="7.20" text-anchor="middle" dominant-baseline="central">1.0</text>
<text stroke="#1a1a1a" x="451.25" y="95.20" fill="#1a1a1a" font-size="7.20" text-anchor="middle" dominant-baseline="central">0.0</text>
<text stroke="#1a1a1a" x="475.90" y="95.20" fill="#1a1a1a" font-size="7.20" text-anchor="middle" dominant-baseline="central">0.0</text>
<text stroke="#1a1a1a" x="500.65" y="95.20" fill="#1a1a1a" font-size="7.20" text-anchor="middle" dominant-baseline="central">0.0</text>
<text stroke="#1a1a1a" x="352.85" y="119.20" fill="#1a1a1a" font-size="7.20" text-anchor="middle" dominant-baseline="central">0.01</text>
<text stroke="#1a1a1a" x="377.60" y="119.20" fill="#1a1a1a" font-size="7.20" text-anchor="middle" dominant-baseline="central">0.0</text>
<text stroke="#1a1a1a" x="402.40" y="119.20" fill="#1a1a1a" font-size="7.20" text-anchor="middle" dominant-baseline="central">0.0</text>
<text stroke="#1a1a1a" x="426.90" y="119.20" fill="#1a1a1a" font-size="7.20" text-anchor="middle" dominant-baseline="central">0.01</text>
<text x="451.25" y="119.20" fill="#ffffff" font-size="7.20" text-anchor="middle" dominant-baseline="central">0.96</text>
<text stroke="#1a1a1a" x="475.90" y="119.20" fill="#1a1a1a" font-size="7.20" text-anchor="middle" dominant-baseline="central">0.02</text>
<text stroke="#1a1a1a" x="500.65" y="119.20" fill="#1a1a1a" font-size="7.20" text-anchor="middle" dominant-baseline="central">0.0</text>
<text stroke="#1a1a1a" x="352.85" y="143.50" fill="#1a1a1a" font-size="7.20" text-anchor="middle" dominant-baseline="central">0.0</text>
<text stroke="#1a1a1a" x="377.60" y="143.50" fill="#1a1a1a" font-size="7.20" text-anchor="middle" dominant-baseline="central">0.0</text>
<text stroke="#1a1a1a" x="402.40" y="143.50" fill="#1a1a1a" font-size="7.20" text-anchor="middle" dominant-baseline="central">0.0</text>
<text stroke="#1a1a1a" x="426.90" y="143.50" fill="#1a1a1a" font-size="7.20" text-anchor="middle" dominant-baseline="central">0.0</text>
<text stroke="#1a1a1a" x="451.25" y="143.50" fill="#1a1a1a" font-size="7.20" text-anchor="middle" dominant-baseline="central">0.0</text>
<text x="475.90" y="143.50" fill="#ffffff" font-size="7.20" text-anchor="middle" dominant-baseline="central">0.98</text>
<text stroke="#1a1a1a" x="500.65" y="143.50" fill="#1a1a1a" font-size="7.20" text-anchor="middle" dominant-baseline="central">0.02</text>
<text stroke="#1a1a1a" x="352.85" y="167.95" fill="#1a1a1a" font-size="7.20" text-anchor="middle" dominant-baseline="central">0.0</text>
<text stroke="#1a1a1a" x="377.60" y="167.95" fill="#1a1a1a" font-size="7.20" text-anchor="middle" dominant-baseline="central">0.0</text>
<text stroke="#1a1a1a" x="402.40" y="167.95" fill="#1a1a1a" font-size="7.20" text-anchor="middle" dominant-baseline="central">0.0</text>
<text stroke="#1a1a1a" x="426.90" y="167.95" fill="#1a1a1a" font-size="7.20" text-anchor="middle" dominant-baseline="central">0.0</text>
<text stroke="#1a1a1a" x="451.25" y="167.95" fill="#1a1a1a" font-size="7.20" text-anchor="middle" dominant-baseline="central">0.0</text>
<text stroke="#1a1a1a" x="475.90" y="167.95" fill="#1a1a1a" font-size="7.20" text-anchor="middle" dominant-baseline="central">0.02</text>
<text x="500.65" y="167.95" fill="#ffffff" font-size="7.20" text-anchor="middle" dominant-baseline="central">0.98</text>
<text stroke="#222" x="336.00" y="21.05" font-size="7.10" text-anchor="end" dominant-baseline="central" fill="#222">Neutral</text>
<text stroke="#222" x="336.00" y="44.98" font-size="7.10" text-anchor="end" dominant-baseline="central" fill="#222">Happy</text>
<text stroke="#222" x="336.00" y="69.22" font-size="7.10" text-anchor="end" dominant-baseline="central" fill="#222">Sad</text>
<text stroke="#222" x="336.00" y="93.40" font-size="7.10" text-anchor="end" dominant-baseline="central" fill="#222">Surprise</text>
<text stroke="#222" x="336.00" y="117.40" font-size="7.10" text-anchor="end" dominant-baseline="central" fill="#222">Fear</text>
<text stroke="#222" x="336.00" y="141.70" font-size="7.10" text-anchor="end" dominant-baseline="central" fill="#222">Disgust</text>
<text stroke="#222" x="336.00" y="166.15" font-size="7.10" text-anchor="end" dominant-baseline="central" fill="#222">Angry</text>
<text stroke="#222" x="352.85" y="186.90" font-size="7.10" text-anchor="middle" fill="#222">Neutral</text>
<text stroke="#222" x="377.60" y="186.90" font-size="7.10" text-anchor="middle" fill="#222">Happy</text>
<text stroke="#222" x="402.40" y="186.90" font-size="7.10" text-anchor="middle" fill="#222">Sad</text>
<text stroke="#222" x="426.90" y="186.90" font-size="7.10" text-anchor="middle" fill="#222">Surprise</text>
<text stroke="#222" x="451.25" y="186.90" font-size="7.10" text-anchor="middle" fill="#222">Fear</text>
<text stroke="#222" x="475.90" y="186.90" font-size="7.10" text-anchor="middle" fill="#222">Disgust</text>
<text stroke="#222" x="500.65" y="186.90" font-size="7.10" text-anchor="middle" fill="#222">Angry</text>
<text stroke="#222" x="426.75" y="197.30" font-size="9.60" text-anchor="middle" fill="#222" class="ax">Predict label</text>
<text stroke="#222" transform="translate(307.00 93.15) rotate(-90)" font-size="9.60" text-anchor="middle" fill="#222" class="ax">True label</text>
<text x="537.50" y="178.60" font-size="6.00" dominant-baseline="central" fill="#2a2a2a" stroke="#2a2a2a" class="cb">0.0</text>
<text x="537.50" y="144.78" font-size="6.00" dominant-baseline="central" fill="#2a2a2a" stroke="#2a2a2a" class="cb">0.2</text>
<text x="537.50" y="110.96" font-size="6.00" dominant-baseline="central" fill="#2a2a2a" stroke="#2a2a2a" class="cb">0.4</text>
<text x="537.50" y="77.14" font-size="6.00" dominant-baseline="central" fill="#2a2a2a" stroke="#2a2a2a" class="cb">0.6</text>
<text x="537.50" y="43.32" font-size="6.00" dominant-baseline="central" fill="#2a2a2a" stroke="#2a2a2a" class="cb">0.8</text>
<text x="537.50" y="9.50" font-size="6.00" dominant-baseline="central" fill="#2a2a2a" stroke="#2a2a2a" class="cb">1.0</text>
<text stroke="#111" x="427.20" y="224.80" font-size="12.00" text-anchor="middle" fill="#111">(<tspan font-weight="bold">b</tspan>)</text>
<text x="58.00" y="249.30" fill="#ffffff" font-size="7.20" text-anchor="middle" dominant-baseline="central">0.85</text>
<text stroke="#1a1a1a" x="83.00" y="249.30" fill="#1a1a1a" font-size="7.20" text-anchor="middle" dominant-baseline="central">0.04</text>
<text stroke="#1a1a1a" x="107.85" y="249.30" fill="#1a1a1a" font-size="7.20" text-anchor="middle" dominant-baseline="central">0.04</text>
<text stroke="#1a1a1a" x="132.70" y="249.30" fill="#1a1a1a" font-size="7.20" text-anchor="middle" dominant-baseline="central">0.02</text>
<text stroke="#1a1a1a" x="157.60" y="249.30" fill="#1a1a1a" font-size="7.20" text-anchor="middle" dominant-baseline="central">0.01</text>
<text stroke="#1a1a1a" x="182.60" y="249.30" fill="#1a1a1a" font-size="7.20" text-anchor="middle" dominant-baseline="central">0.04</text>
<text stroke="#1a1a1a" x="207.80" y="249.30" fill="#1a1a1a" font-size="7.20" text-anchor="middle" dominant-baseline="central">0.01</text>
<text stroke="#1a1a1a" x="58.00" y="273.60" fill="#1a1a1a" font-size="7.20" text-anchor="middle" dominant-baseline="central">0.03</text>
<text x="83.00" y="273.60" fill="#ffffff" font-size="7.20" text-anchor="middle" dominant-baseline="central">0.95</text>
<text stroke="#1a1a1a" x="107.85" y="273.60" fill="#1a1a1a" font-size="7.20" text-anchor="middle" dominant-baseline="central">0.01</text>
<text stroke="#1a1a1a" x="132.70" y="273.60" fill="#1a1a1a" font-size="7.20" text-anchor="middle" dominant-baseline="central">0.0</text>
<text stroke="#1a1a1a" x="157.60" y="273.60" fill="#1a1a1a" font-size="7.20" text-anchor="middle" dominant-baseline="central">0.0</text>
<text stroke="#1a1a1a" x="182.60" y="273.60" fill="#1a1a1a" font-size="7.20" text-anchor="middle" dominant-baseline="central">0.01</text>
<text stroke="#1a1a1a" x="207.80" y="273.60" fill="#1a1a1a" font-size="7.20" text-anchor="middle" dominant-baseline="central">0.0</text>
<text stroke="#1a1a1a" x="58.00" y="298.30" fill="#1a1a1a" font-size="7.20" text-anchor="middle" dominant-baseline="central">0.06</text>
<text stroke="#1a1a1a" x="83.00" y="298.30" fill="#1a1a1a" font-size="7.20" text-anchor="middle" dominant-baseline="central">0.02</text>
<text x="107.85" y="298.30" fill="#ffffff" font-size="7.20" text-anchor="middle" dominant-baseline="central">0.86</text>
<text stroke="#1a1a1a" x="132.70" y="298.30" fill="#1a1a1a" font-size="7.20" text-anchor="middle" dominant-baseline="central">0.01</text>
<text stroke="#1a1a1a" x="157.60" y="298.30" fill="#1a1a1a" font-size="7.20" text-anchor="middle" dominant-baseline="central">0.02</text>
<text stroke="#1a1a1a" x="182.60" y="298.30" fill="#1a1a1a" font-size="7.20" text-anchor="middle" dominant-baseline="central">0.03</text>
<text stroke="#1a1a1a" x="207.80" y="298.30" fill="#1a1a1a" font-size="7.20" text-anchor="middle" dominant-baseline="central">0.0</text>
<text stroke="#1a1a1a" x="58.00" y="322.90" fill="#1a1a1a" font-size="7.20" text-anchor="middle" dominant-baseline="central">0.04</text>
<text stroke="#1a1a1a" x="83.00" y="322.90" fill="#1a1a1a" font-size="7.20" text-anchor="middle" dominant-baseline="central">0.02</text>
<text stroke="#1a1a1a" x="107.85" y="322.90" fill="#1a1a1a" font-size="7.20" text-anchor="middle" dominant-baseline="central">0.01</text>
<text x="132.70" y="322.90" fill="#ffffff" font-size="7.20" text-anchor="middle" dominant-baseline="central">0.89</text>
<text stroke="#1a1a1a" x="157.60" y="322.90" fill="#1a1a1a" font-size="7.20" text-anchor="middle" dominant-baseline="central">0.02</text>
<text stroke="#1a1a1a" x="182.60" y="322.90" fill="#1a1a1a" font-size="7.20" text-anchor="middle" dominant-baseline="central">0.01</text>
<text stroke="#1a1a1a" x="207.80" y="322.90" fill="#1a1a1a" font-size="7.20" text-anchor="middle" dominant-baseline="central">0.01</text>
<text stroke="#1a1a1a" x="58.00" y="347.30" fill="#1a1a1a" font-size="7.20" text-anchor="middle" dominant-baseline="central">0.05</text>
<text stroke="#1a1a1a" x="83.00" y="347.30" fill="#1a1a1a" font-size="7.20" text-anchor="middle" dominant-baseline="central">0.05</text>
<text stroke="#1a1a1a" x="107.85" y="347.30" fill="#1a1a1a" font-size="7.20" text-anchor="middle" dominant-baseline="central">0.07</text>
<text stroke="#1a1a1a" x="132.70" y="347.30" fill="#1a1a1a" font-size="7.20" text-anchor="middle" dominant-baseline="central">0.12</text>
<text x="157.60" y="347.30" fill="#ffffff" font-size="7.20" text-anchor="middle" dominant-baseline="central">0.71</text>
<text stroke="#1a1a1a" x="182.60" y="347.30" fill="#1a1a1a" font-size="7.20" text-anchor="middle" dominant-baseline="central">0.0</text>
<text stroke="#1a1a1a" x="207.80" y="347.30" fill="#1a1a1a" font-size="7.20" text-anchor="middle" dominant-baseline="central">0.0</text>
<text stroke="#1a1a1a" x="58.00" y="371.80" fill="#1a1a1a" font-size="7.20" text-anchor="middle" dominant-baseline="central">0.09</text>
<text stroke="#1a1a1a" x="83.00" y="371.80" fill="#1a1a1a" font-size="7.20" text-anchor="middle" dominant-baseline="central">0.06</text>
<text stroke="#1a1a1a" x="107.85" y="371.80" fill="#1a1a1a" font-size="7.20" text-anchor="middle" dominant-baseline="central">0.06</text>
<text stroke="#1a1a1a" x="132.70" y="371.80" fill="#1a1a1a" font-size="7.20" text-anchor="middle" dominant-baseline="central">0.04</text>
<text stroke="#1a1a1a" x="157.60" y="371.80" fill="#1a1a1a" font-size="7.20" text-anchor="middle" dominant-baseline="central">0.01</text>
<text x="182.60" y="371.80" fill="#ffffff" font-size="7.20" text-anchor="middle" dominant-baseline="central">0.68</text>
<text stroke="#1a1a1a" x="207.80" y="371.80" fill="#1a1a1a" font-size="7.20" text-anchor="middle" dominant-baseline="central">0.06</text>
<text stroke="#1a1a1a" x="58.00" y="396.30" fill="#1a1a1a" font-size="7.20" text-anchor="middle" dominant-baseline="central">0.01</text>
<text stroke="#1a1a1a" x="83.00" y="396.30" fill="#1a1a1a" font-size="7.20" text-anchor="middle" dominant-baseline="central">0.03</text>
<text stroke="#1a1a1a" x="107.85" y="396.30" fill="#1a1a1a" font-size="7.20" text-anchor="middle" dominant-baseline="central">0.01</text>
<text stroke="#1a1a1a" x="132.70" y="396.30" fill="#1a1a1a" font-size="7.20" text-anchor="middle" dominant-baseline="central">0.03</text>
<text stroke="#1a1a1a" x="157.60" y="396.30" fill="#1a1a1a" font-size="7.20" text-anchor="middle" dominant-baseline="central">0.03</text>
<text stroke="#1a1a1a" x="182.60" y="396.30" fill="#1a1a1a" font-size="7.20" text-anchor="middle" dominant-baseline="central">0.08</text>
<text x="207.80" y="396.30" fill="#ffffff" font-size="7.20" text-anchor="middle" dominant-baseline="central">0.81</text>
<text stroke="#222" x="40.90" y="246.90" font-size="7.10" text-anchor="end" dominant-baseline="central" fill="#222">Neutral</text>
<text stroke="#222" x="40.90" y="271.20" font-size="7.10" text-anchor="end" dominant-baseline="central" fill="#222">Happy</text>
<text stroke="#222" x="40.90" y="295.90" font-size="7.10" text-anchor="end" dominant-baseline="central" fill="#222">Sad</text>
<text stroke="#222" x="40.90" y="320.50" font-size="7.10" text-anchor="end" dominant-baseline="central" fill="#222">Surprise</text>
<text stroke="#222" x="40.90" y="344.90" font-size="7.10" text-anchor="end" dominant-baseline="central" fill="#222">Fear</text>
<text stroke="#222" x="40.90" y="369.40" font-size="7.10" text-anchor="end" dominant-baseline="central" fill="#222">Disgust</text>
<text stroke="#222" x="40.90" y="393.90" font-size="7.10" text-anchor="end" dominant-baseline="central" fill="#222">Angry</text>
<text stroke="#222" x="58.00" y="414.60" font-size="7.10" text-anchor="middle" fill="#222">Neutral</text>
<text stroke="#222" x="83.00" y="414.60" font-size="7.10" text-anchor="middle" fill="#222">Happy</text>
<text stroke="#222" x="107.85" y="414.60" font-size="7.10" text-anchor="middle" fill="#222">Sad</text>
<text stroke="#222" x="132.70" y="414.60" font-size="7.10" text-anchor="middle" fill="#222">Surprise</text>
<text stroke="#222" x="157.60" y="414.60" font-size="7.10" text-anchor="middle" fill="#222">Fear</text>
<text stroke="#222" x="182.60" y="414.60" font-size="7.10" text-anchor="middle" fill="#222">Disgust</text>
<text stroke="#222" x="207.80" y="414.60" font-size="7.10" text-anchor="middle" fill="#222">Angry</text>
<text stroke="#222" x="132.95" y="426.00" font-size="9.60" text-anchor="middle" fill="#222" class="ax">Predict label</text>
<text stroke="#222" transform="translate(12.80 320.50) rotate(-90)" font-size="9.60" text-anchor="middle" fill="#222" class="ax">True label</text>
<text x="244.80" y="406.90" font-size="6.00" dominant-baseline="central" fill="#2a2a2a" stroke="#2a2a2a" class="cb">0.0</text>
<text x="244.80" y="370.90" font-size="6.00" dominant-baseline="central" fill="#2a2a2a" stroke="#2a2a2a" class="cb">0.2</text>
<text x="244.80" y="334.90" font-size="6.00" dominant-baseline="central" fill="#2a2a2a" stroke="#2a2a2a" class="cb">0.4</text>
<text x="244.80" y="298.90" font-size="6.00" dominant-baseline="central" fill="#2a2a2a" stroke="#2a2a2a" class="cb">0.6</text>
<text x="244.80" y="262.90" font-size="6.00" dominant-baseline="central" fill="#2a2a2a" stroke="#2a2a2a" class="cb">0.8</text>
<text stroke="#111" x="134.80" y="446.40" font-size="12.00" text-anchor="middle" fill="#111">(<tspan font-weight="bold">c</tspan>)</text>
</g>
</svg>
</body></html>
